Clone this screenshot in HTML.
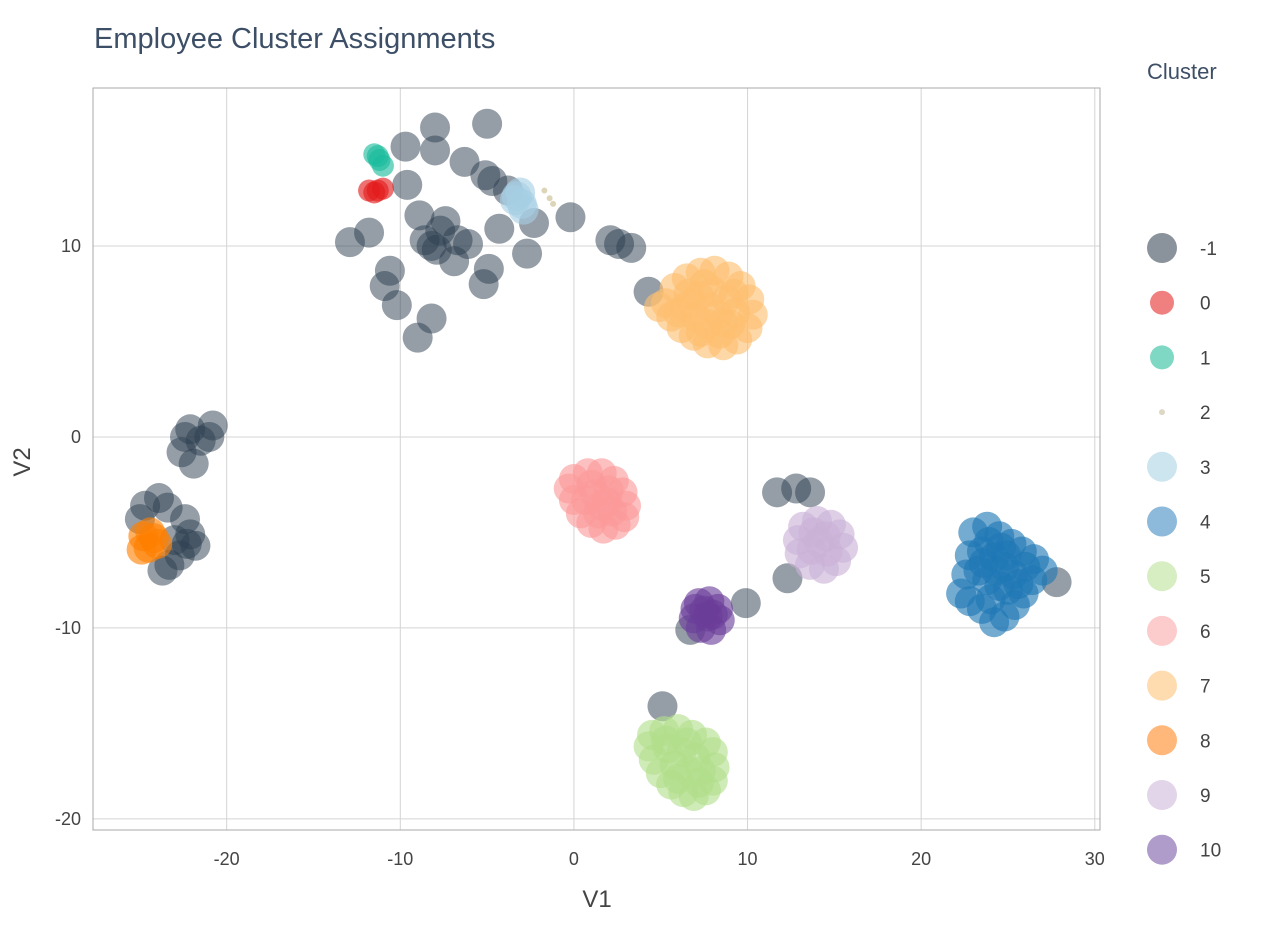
<!DOCTYPE html>
<html><head><meta charset="utf-8"><style>
body{margin:0;background:#fff;font-family:"Liberation Sans",sans-serif;}
svg text{font-family:"Liberation Sans",sans-serif;}
</style></head><body>
<svg id="chart" width="1274" height="932" xmlns="http://www.w3.org/2000/svg">
<text x="94" y="48" font-size="29" fill="#3d4f66">Employee Cluster Assignments</text>
<g id="grid"></g>
<g id="marks"></g>
<rect x="93" y="88" width="1007" height="742" fill="none" stroke="#aaa" stroke-width="1"/>
<g id="ticks"></g>
<text x="597" y="907" font-size="24" fill="#444" text-anchor="middle">V1</text>
<text transform="translate(30,462) rotate(-90)" font-size="24" fill="#444" text-anchor="middle">V2</text>
<text x="1147" y="79" font-size="22" fill="#3d4f66">Cluster</text>
<g id="legend"></g>
</svg>
<script>
const xTicks=[-20,-10,0,10,20,30];
const yTicks=[-20,-10,0,10];
const clusterNames=["-1","0","1","2","3","4","5","6","7","8","9","10"];
const clusterColors=["#2c3e50","#e41a1c","#1abc9c","#c8bb8c","#a6cee3","#1f78b4","#b2df8a","#fb9a99","#fdbf6f","#ff7f00","#cab2d6","#6a3d9a"];
const clusterSizes=[15,11,11,3,15,15,15,15,15,15,15,15];
const legendColors=["#8a939c","#f08080","#7fd8c4","#ddd8c4","#cde5ef","#8db9da","#d6eec2","#fccbcb","#fedcb0","#ffb77a","#e2d5e9","#b09ccb"];
const noisePts=[[-5.0,16.4],[-8.0,16.2],[-8.0,15.0],[-9.7,15.2],[-9.6,13.2],[-6.3,14.4],[-5.1,13.7],[-4.7,13.4],[-3.8,12.9],[-0.2,11.5],[-2.3,11.2],[-4.3,10.9],[-2.7,9.6],[-8.9,11.6],[-7.4,11.3],[-8.6,10.3],[-7.9,9.8],[-6.7,10.3],[-6.1,10.1],[-6.9,9.2],[-4.9,8.8],[-5.2,8.0],[-7.7,10.8],[-8.2,10.0],[-11.8,10.7],[-12.9,10.2],[-10.6,8.7],[-10.9,7.9],[-10.2,6.9],[-8.2,6.2],[-9.0,5.2],[2.1,10.3],[3.3,9.9],[2.6,10.1],[4.3,7.6],[-22.1,0.4],[-21.0,0],[-22.6,-0.8],[-21.9,-1.4],[-20.8,0.6],[-22.4,0],[-21.5,-0.2],[-24.7,-3.6],[-23.9,-3.2],[-23.4,-3.7],[-22.4,-4.3],[-22.1,-5.1],[-21.8,-5.7],[-22.7,-6.2],[-23.3,-6.7],[-23.7,-7.0],[-23.0,-5.4],[-22.3,-5.6],[-25.0,-4.3],[11.7,-2.9],[12.8,-2.7],[13.6,-2.9],[12.3,-7.4],[9.9,-8.7],[6.7,-10.1],[5.1,-14.1],[27.8,-7.6]];
const c0Pts=[[-11.8,12.9],[-11.3,12.9],[-11.0,13.0],[-11.5,12.8]];
const c1Pts=[[-11.5,14.8],[-11.2,14.5],[-11.0,14.2],[-11.3,14.7]];
const c2Pts=[[-1.7,12.9],[-1.4,12.5],[-1.2,12.2]];
const c3Pts=[[-3.3,12.6],[-3.0,12.2],[-3.4,12.4],[-2.9,11.9],[-3.1,12.8]];
const c4Pts=[[23.0,-5.0],[23.8,-4.7],[24.5,-5.2],[25.2,-5.6],[25.8,-6.0],[26.5,-6.4],[27.0,-7.0],[26.4,-7.5],[25.9,-8.2],[25.4,-8.8],[24.8,-9.4],[24.2,-9.7],[23.5,-9.0],[22.8,-8.6],[22.3,-8.2],[22.6,-7.2],[22.8,-6.2],[23.5,-6.0],[24.2,-6.3],[24.8,-6.8],[25.3,-7.2],[24.5,-7.8],[23.8,-7.5],[23.3,-7.0],[24.0,-8.5],[25.0,-8.0],[26.0,-6.8],[24.6,-5.8],[23.9,-5.5],[25.6,-7.7],[24.3,-7.0],[23.6,-6.6],[24.9,-6.2]];
const c5Pts=[[4.5,-15.6],[5.2,-15.4],[6.0,-15.3],[6.8,-15.6],[7.6,-16.0],[8.0,-16.5],[8.1,-17.3],[8.0,-18.0],[7.6,-18.5],[6.9,-18.8],[6.3,-18.6],[5.6,-18.2],[5.0,-17.6],[4.6,-16.9],[4.3,-16.2],[5.4,-16.3],[6.2,-16.5],[7.0,-16.8],[6.6,-17.5],[5.8,-17.2],[7.3,-17.5],[6.0,-17.9],[5.3,-15.9],[6.5,-16.0],[7.2,-18.1]];
const c6Pts=[[0.0,-2.2],[0.8,-1.9],[1.6,-1.9],[2.3,-2.3],[2.8,-2.9],[3.0,-3.6],[2.9,-4.2],[2.4,-4.6],[1.7,-4.8],[1.0,-4.5],[0.4,-4.0],[0.0,-3.3],[-0.3,-2.7],[1.2,-3.0],[1.9,-3.4],[1.4,-4.0],[0.7,-3.3],[2.2,-3.9],[1.0,-2.5],[2.0,-2.8],[1.6,-3.6]];
const c7Pts=[[5.3,7.0],[5.8,7.8],[6.5,8.3],[7.3,8.6],[8.1,8.7],[8.9,8.4],[9.6,7.9],[10.1,7.2],[10.3,6.4],[10.0,5.7],[9.4,5.1],[8.6,4.8],[7.7,4.9],[6.9,5.3],[6.2,5.7],[5.6,6.3],[6.4,6.8],[7.2,7.4],[8.0,7.6],[8.8,7.2],[9.3,6.5],[8.6,6.0],[7.7,5.9],[7.0,6.3],[7.8,6.8],[8.4,5.4],[9.0,5.9],[6.6,7.5],[4.9,6.8],[7.5,8.0],[6.0,6.5],[8.3,6.4],[7.3,5.5],[9.2,7.5],[6.8,7.0]];
const c8Pts=[[-24.8,-5.2],[-24.5,-5.8],[-24.2,-5.3],[-24.9,-5.9],[-24.4,-5.0],[-24.0,-5.6]];
const c9Pts=[[13.2,-4.7],[14.0,-4.4],[14.8,-4.6],[15.3,-5.1],[15.5,-5.8],[15.1,-6.5],[14.4,-6.9],[13.6,-6.7],[13.0,-6.1],[12.9,-5.4],[14.1,-5.5],[14.6,-6.0],[13.7,-5.9],[14.5,-5.2],[13.8,-5.0]];
const c10Pts=[[7.2,-8.7],[7.8,-8.6],[8.3,-9.0],[8.4,-9.6],[7.9,-10.1],[7.3,-10.0],[6.9,-9.5],[7.0,-9.0],[7.7,-9.4],[7.5,-9.1],[8.0,-9.3]];
const allPts=[noisePts,c0Pts,c1Pts,c2Pts,c3Pts,c4Pts,c5Pts,c6Pts,c7Pts,c8Pts,c9Pts,c10Pts];

const X0=93,X1=1100,Y0=88,Y1=830;
const xMin=-27.7,xMax=30.3,yMin=-20.58,yMax=18.27;
const xs=v=>X0+(v-xMin)/(xMax-xMin)*(X1-X0);
const ys=v=>Y1-(v-yMin)/(yMax-yMin)*(Y1-Y0);
const NS="http://www.w3.org/2000/svg";
function mk(tag,attrs,parent){const e=document.createElementNS(NS,tag);for(const k in attrs)e.setAttribute(k,attrs[k]);parent.appendChild(e);return e;}
const grid=document.getElementById('grid'),ticks=document.getElementById('ticks'),marks=document.getElementById('marks'),legend=document.getElementById('legend');
xTicks.forEach(t=>{
 const l=mk('line',{x1:xs(t),x2:xs(t),y1:Y0,y2:Y1,stroke:'#d4d4d4','stroke-width':1},grid);
 
 
 const tx=mk('text',{x:xs(t),y:Y1+35,'font-size':18,fill:'#444','text-anchor':'middle'},ticks);
 tx.textContent=String(t);
 
 
});
yTicks.forEach(t=>{
 const l=mk('line',{x1:X0,x2:X1,y1:ys(t),y2:ys(t),stroke:'#d4d4d4','stroke-width':1},grid);
 
 
 const tx=mk('text',{x:X0-12,y:ys(t)+6,'font-size':18,fill:'#444','text-anchor':'end'},ticks);
 tx.textContent=String(t);
 
 
});
allPts.forEach((pts,i)=>{
 const g=mk('g',{},marks);
 
 
 pts.forEach(p=>{
  const c=mk('circle',{cx:xs(p[0]),cy:ys(p[1]),r:clusterSizes[i],fill:clusterColors[i],'fill-opacity':i===0?0.5:0.62},g);
  
  
 });
});
const legR=[15,12,12,3,15,15,15,15,15,15,15,15];
clusterNames.forEach((n,i)=>{
 const y=248+i*54.7;
 const g=mk('g',{},legend);
 
 
 mk('circle',{cx:1162,cy:y,r:legR[i],fill:legendColors[i]},g);
 const t=mk('text',{x:1200,y:y+7,'font-size':19,fill:'#444'},g);
 t.textContent=n;
});
</script>
</body></html>
